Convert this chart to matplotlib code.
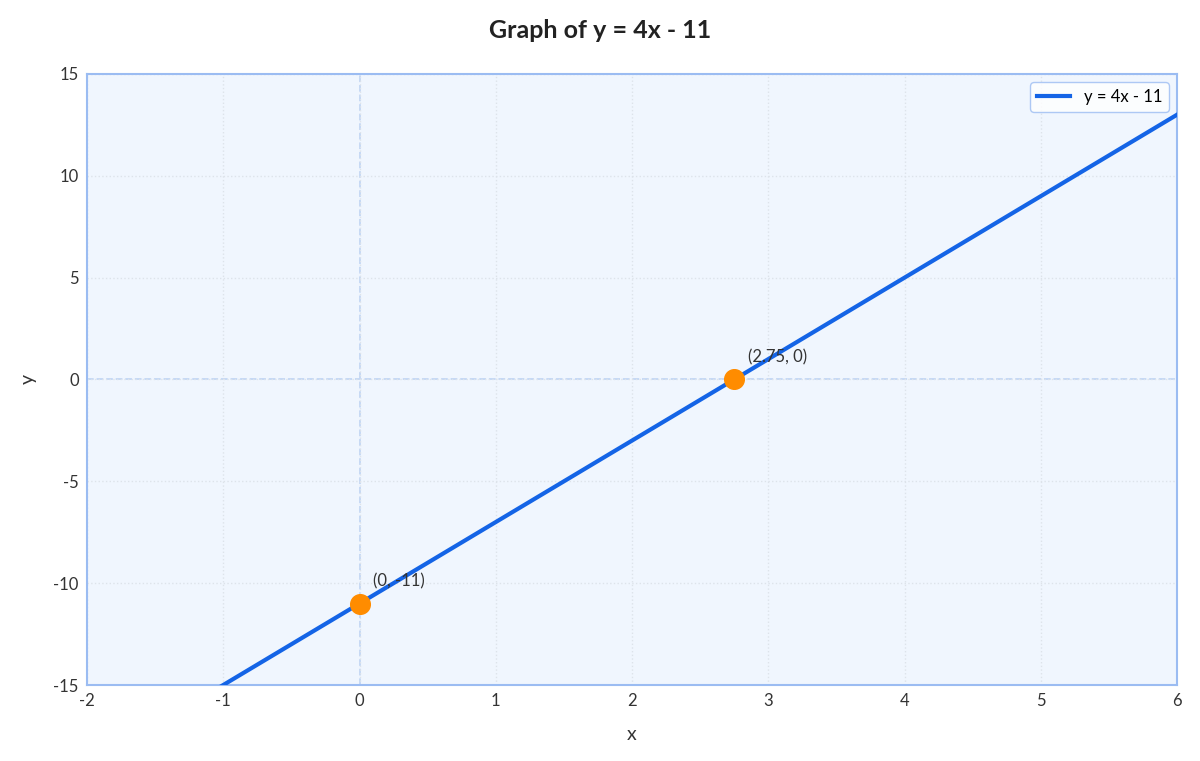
import matplotlib
matplotlib.use("Agg")
import matplotlib.pyplot as plt
import numpy as np

plt.rcParams['font.family'] = ['Lato', 'DejaVu Sans']
plt.rcParams['axes.unicode_minus'] = False

x_range = [-2, 6]
slope = 4
intercept = -11
points_x = [0, 2.75]
points_y = [-11, 0]
point_labels = ["(0, -11)", "(2.75, 0)"]
xticks = [-2, -1, 0, 1, 2, 3, 4, 5, 6]
yticks = [-15, -10, -5, 0, 5, 10, 15]

fig = plt.figure(figsize=(12, 7.61), dpi=100)
ax = fig.add_axes([87/1200, 1-685/761, (1177-87)/1200, (685-74)/761])
ax.set_facecolor('#f0f6fe')
xs = np.array(x_range, dtype=float)
ax.plot(xs, slope*xs + intercept, color='#1464e6', lw=3, label='y = 4x - 11', zorder=3)
ax.axhline(0, color='#c2d6f5', ls='--', lw=1.3, zorder=1)
ax.axvline(0, color='#c2d6f5', ls='--', lw=1.3, zorder=1)
ax.scatter(points_x, points_y, s=200, color='#ff8c00', zorder=4)
for px, py, lab in zip(points_x, points_y, point_labels):
    ax.annotate(lab, (px, py), xytext=(10, 12), textcoords='offset points',
                fontsize=12, color='#333333')
ax.set_xlim(-2, 6)
ax.set_ylim(-15, 15)
ax.set_xticks(xticks)
ax.set_yticks(yticks)
ax.grid(True, ls=':', color='#dde3ea', lw=1)
for s in ax.spines.values():
    s.set_color('#9bbcf2'); s.set_linewidth(1.5)
ax.tick_params(colors='#333333', labelsize=12, length=0, pad=6)
ax.set_xlabel('x', fontsize=14, color='#333333', labelpad=12)
ax.set_ylabel('y', fontsize=14, color='#333333', labelpad=12)
fig.suptitle('Graph of y = 4x - 11', fontsize=18, fontweight='bold', color='#222222', y=0.975)
leg = ax.legend(loc='upper right', fontsize=12, frameon=True, fancybox=True)
leg.get_frame().set_edgecolor('#9bbcf2')
leg.get_frame().set_facecolor('white')
fig.savefig('out.png', dpi=100)
